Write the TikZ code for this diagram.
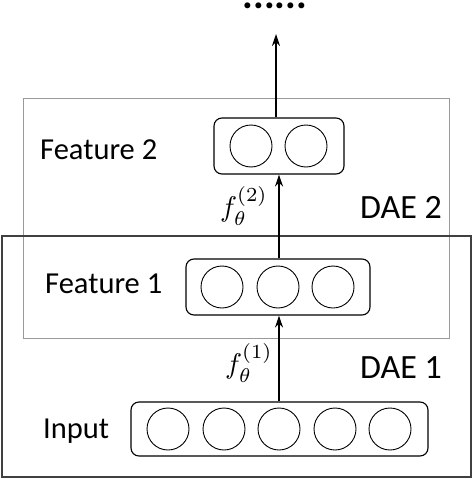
\documentclass[tikz,border=0pt]{standalone}
\usepackage{fontspec}
\setmainfont{Carlito}
\usetikzlibrary{arrows.meta}
\begin{document}
\begin{tikzpicture}[x=1pt,y=-1pt,
  row/.style={draw=black,line width=1.1pt,rounded corners=8pt,inner sep=0pt},
  unit/.style={draw=black,line width=0.9pt,circle,minimum size=42pt,inner sep=0pt},
  lbl/.style={anchor=base west,inner sep=0pt,font=\fontsize{30.5}{32}\selectfont},
  dae/.style={anchor=base west,inner sep=0pt,font=\fontsize{34}{36}\selectfont},
  flbl/.style={inner sep=0pt},
  arr/.style={-{Stealth[length=12pt,width=8pt]},line width=1.3pt}]
\useasboundingbox (0,0) rectangle (474,479);
% DAE boxes
\draw[draw=gray!80,line width=1pt] (23,98) rectangle (449,338);
\draw[draw=black!75,line width=1.6pt] (2,236) rectangle (471,477);
% rows
\node[row,minimum width=130pt,minimum height=56pt] (r2) at (279,146) {};
\node[row,minimum width=184pt,minimum height=56pt] (r1) at (278,287) {};
\node[row,minimum width=297pt,minimum height=54pt] (r0) at (279.5,429) {};
% units
\node[unit] (a1) at (251,146) {};
\node[unit] (a2) at (306,146) {};
\node[unit] (b1) at (222,287) {};
\node[unit] (b2) at (278,287) {};
\node[unit] (b3) at (333,287) {};
\node[unit] (c1) at (168,429) {};
\node[unit] (c2) at (224,429) {};
\node[unit] (c3) at (279,429) {};
\node[unit] (c4) at (335,429) {};
\node[unit] (c5) at (390,429) {};
% labels
\node[lbl] (lf2) at (40,159) {Feature 2};
\node[lbl] (lf1) at (45,293) {Feature 1};
\node[lbl] (lin) at (43,438) {Input};
\node[dae] (d2) at (360,218) {DAE 2};
\node[dae] (d1) at (360,378) {DAE 1};
% arrows
\coordinate (topend) at (276,34);
\draw[arr] (r2.north -| topend) -- (topend);
\draw[arr] (c3.north |- r0.north) -- (c3.north |- r1.south);
\draw[arr] (c3.north |- r1.north) -- (c3.north |- r2.south);
\node[flbl] (f1) at (249,363) {\scalebox{2.85}{$f_\theta^{(1)}$}};
\node[flbl] (f2) at (244,206) {\scalebox{2.85}{$f_\theta^{(2)}$}};
\node[anchor=base,inner sep=0pt,font=\bfseries\fontsize{40}{40}\selectfont] (dots) at (275,9) {......};
\end{tikzpicture}
\end{document}
